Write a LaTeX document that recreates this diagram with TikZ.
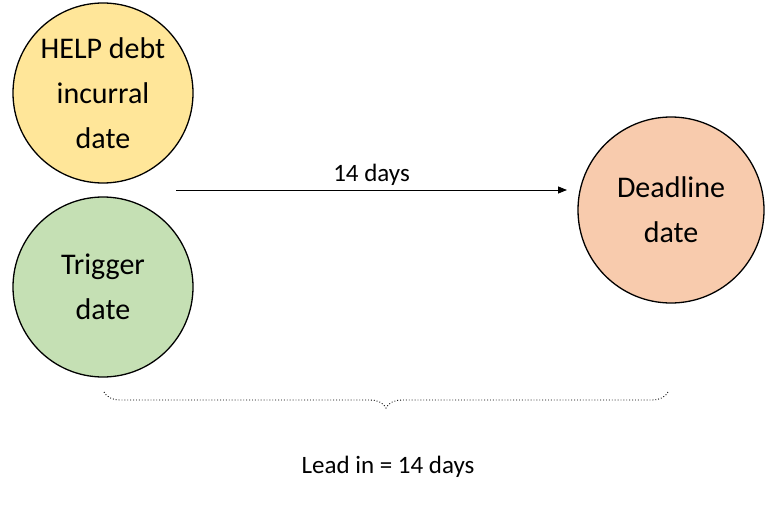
\documentclass[tikz,border=0pt]{standalone}
\usepackage{fontspec}
\setmainfont{Carlito}
\usetikzlibrary{decorations.pathreplacing,arrows.meta}
\definecolor{cy}{HTML}{FFE699}
\definecolor{cg}{HTML}{C5E0B4}
\definecolor{co}{HTML}{F8CBAD}
\begin{document}
\begin{tikzpicture}[x=1pt,y=1pt,
  circ/.style={circle,draw=black,line width=1.3pt,inner sep=0pt,align=center,font=\fontsize{30}{45}\selectfont},
  lbl/.style={font=\fontsize{25}{30}\selectfont}]
\useasboundingbox (0,0) rectangle (768,507);
\node[circ,fill=cy,minimum size=180] (help) at (103,414) {HELP debt\\incurral\\date};
\node[circ,fill=cg,minimum size=180] (trig) at (103,220) {Trigger\\date};
\node[circ,fill=co,minimum size=186] (dead) at (671,297) {Deadline\\date};
\coordinate (as) at (176,317);
\coordinate (ae) at (567,317);
\draw[-{Triangle[length=9,width=7]},line width=0.8pt] (as) -- (ae) node[lbl,midway,above=1pt] (d14) {14 days};
\coordinate (bl) at (104,115);
\coordinate (br) at (668,115);
\draw[dotted,line width=0.9pt,decorate,decoration={brace,mirror,amplitude=16}] (bl) -- (br);
\node[lbl] (lead) at (388,40) {Lead in = 14 days};
\end{tikzpicture}
\end{document}
